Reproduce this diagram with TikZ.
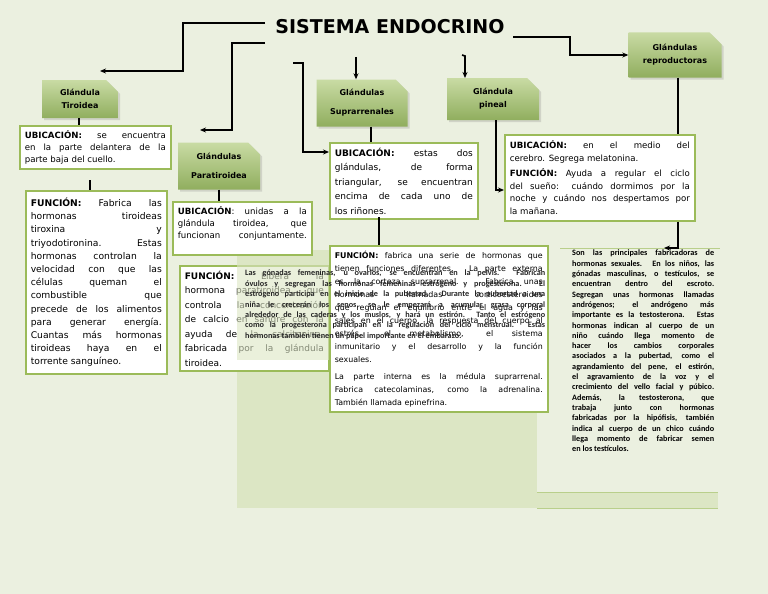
\documentclass[tikz,border=0pt]{standalone}
\usepackage{fontspec}
\setmainfont{DejaVu Sans}
\newfontfamily\carlitofont{Carlito}
\usetikzlibrary{shapes.misc,shadows,arrows.meta}
\definecolor{bgc}{HTML}{EBF0E0}
\definecolor{panel}{HTML}{DCE6C4}
\definecolor{bgreen}{HTML}{9BBB59}
\definecolor{ntop}{HTML}{C9DBA4}
\definecolor{nbot}{HTML}{90AE5E}
\tikzset{
 gland/.style={chamfered rectangle, chamfered rectangle corners=north east, chamfered rectangle xsep=6pt, chamfered rectangle ysep=6pt,
   top color=ntop, bottom color=nbot, draw=none, drop shadow={opacity=0.25,shadow xshift=2pt,shadow yshift=-2pt},
   font=\fontsize{8}{13}\selectfont\bfseries, align=center, inner sep=2pt},
 infobox/.style={draw=bgreen, line width=1.6pt, fill=white, anchor=north west, align=justify, inner sep=5pt},
 conn/.style={line width=1.6pt, black},
 arr/.style={conn, -{Stealth[length=6pt,width=5pt]}},
}
\begin{document}
\begin{tikzpicture}[x=1pt,y=-1pt]
\fill[bgc] (0,0) rectangle (768,594);
\useasboundingbox (0,0) rectangle (768,594);
% title
\node[font=\fontsize{19}{22}\selectfont\bfseries] (title) at (390,27) {SISTEMA ENDOCRINO};
% glands
\node[gland, minimum width=76pt, minimum height=38pt] (tir) at (80,99) {Glándula\\Tiroidea};
\node[gland, minimum width=82pt, minimum height=47pt, font=\fontsize{8}{19}\selectfont\bfseries] (par) at (219,166) {Glándulas\\Paratiroidea};
\node[gland, minimum width=91pt, minimum height=47pt, font=\fontsize{8}{19}\selectfont\bfseries] (sup) at (362,103) {Glándulas\\Suprarrenales};
\node[gland, minimum width=92pt, minimum height=42pt] (pin) at (493,99) {Glándula\\pineal};
\node[gland, minimum width=93pt, minimum height=45pt] (rep) at (675,55) {Glándulas\\reproductoras};
% panel
\fill[panel] (237,250) rectangle (537,508);
\fill[panel] (537,492) rectangle (718,508);
\draw[bgreen!70, line width=1pt] (537,492) -- (718,492) (537,508) -- (718,508);
\draw[bgreen!70, line width=1pt] (560,248) -- (720,248);
% info boxes
\node[infobox, text width=141pt, minimum height=42pt, font=\fontsize{8.6}{11.8}\selectfont] (tirU) at (19,125)
 {\textbf{UBICACIÓN:} se encuentra\linebreak en la parte delantera de la\linebreak parte baja del cuello.\hfill\null};
\node[infobox, text width=131pt, minimum height=183pt, font=\fontsize{9.2}{13.2}\selectfont] (tirF) at (25,190)
 {\textbf{FUNCIÓN:} Fabrica las\linebreak hormonas tiroideas\linebreak tiroxina y\linebreak triyodotironina. Estas\linebreak hormonas controlan la\linebreak velocidad con que las\linebreak células queman el\linebreak combustible que\linebreak precede de los alimentos\linebreak para generar energía.\linebreak Cuantas más hormonas\linebreak tiroideas haya en el\linebreak torrente sanguíneo.\hfill\null};
\node[infobox, text width=129pt, minimum height=41pt, font=\fontsize{8.6}{11.8}\selectfont] (parU) at (172,201)
 {\textbf{UBICACIÓN}: unidas a la\linebreak glándula tiroidea, que\linebreak funcionan conjuntamente.\hfill\null};
\node[infobox, text width=139pt, minimum height=92pt, font=\fontsize{9}{14.5}\selectfont] (parF) at (179,265)
 {\textbf{FUNCIÓN:} Libera la\linebreak hormona paratiroidea, que\linebreak controla la concentración\linebreak de calcio en sangre con la\linebreak ayuda de la calcitonina,\linebreak fabricada por la glándula\linebreak tiroidea.\hfill\null};
\fill[panel, opacity=0.6] (237,262) rectangle (330,360);
\node[infobox, text width=138pt, minimum height=69pt, font=\fontsize{9}{14.5}\selectfont] (supU) at (329,142)
 {\textbf{UBICACIÓN:} estas dos\linebreak glándulas, de forma\linebreak triangular, se encuentran\linebreak encima de cada uno de\linebreak los riñones.\hfill\null};
\node[infobox, text width=208pt, minimum height=148pt, font=\fontsize{7.9}{13}\selectfont] (supF) at (329,245)
 {\textbf{FUNCIÓN:} fabrica una serie de hormonas que\linebreak tienen funciones diferentes. La parte externa\linebreak es la corteza suprarrenal. Fabrica unas\linebreak hormonas llamadas corticoesteroides\linebreak que regulan el equilibrio entre el agua y las\linebreak sales en el cuerpo, la respuesta del cuerpo al\linebreak estrés, el metabolismo, el sistema\linebreak inmunitario y el desarrollo y la función\linebreak sexuales.\par\vspace{4pt}
 La parte interna es la médula suprarrenal.\linebreak Fabrica catecolaminas, como la adrenalina.\linebreak También llamada epinefrina.\hfill\null};
\node[infobox, text width=180pt, minimum height=86pt, font=\fontsize{8.6}{12.5}\selectfont] (pinB) at (504,134)
 {\textbf{UBICACIÓN:} en el medio del\linebreak cerebro. Segrega melatonina.\hfill\null\par\vspace{3pt}
 \textbf{FUNCIÓN:} Ayuda a regular el ciclo\linebreak del sueño: cuándo dormimos por la\linebreak noche y cuándo nos despertamos por\linebreak la mañana.\hfill\null};
% right column
\node[anchor=north west, text width=142pt, align=justify, inner sep=0pt, font=\carlitofont\fontsize{8.2}{10.3}\selectfont\bfseries] (repT) at (572,250)
 {Son las principales fabricadoras de\linebreak hormonas sexuales. En los niños, las\linebreak gónadas masculinas, o testículos, se\linebreak encuentran dentro del escroto.\linebreak Segregan unas hormonas llamadas\linebreak andrógenos; el andrógeno más\linebreak importante es la testosterona. Estas\linebreak hormonas indican al cuerpo de un\linebreak niño cuándo llega momento de\linebreak hacer los cambios corporales\linebreak asociados a la pubertad, como el\linebreak agrandamiento del pene, el estirón,\linebreak el agravamiento de la voz y el\linebreak crecimiento del vello facial y púbico.\linebreak Además, la testosterona, que\linebreak trabaja junto con hormonas\linebreak fabricadas por la hipófisis, también\linebreak indica al cuerpo de un chico cuándo\linebreak llega momento de fabricar semen\linebreak en los testículos.\hfill\null};
% overlapping gonadas text
\node[anchor=north west, text width=300pt, align=justify, inner sep=0pt, font=\carlitofont\fontsize{8.2}{10.4}\selectfont\bfseries, text=black!85] (gon) at (245,270)
 {Las gónadas femeninas, u ovarios, se encuentran en la pelvis. Fabrican\linebreak óvulos y segregan las hormonas femeninas estrógeno y progesterona. El\linebreak estrógeno participa en el inicio de la pubertad. Durante la pubertad a una\linebreak niña le crecerán los senos, se le empezará a acumular grasa corporal\linebreak alrededor de las caderas y los muslos, y hará un estirón. Tanto el estrógeno\linebreak como la progesterona participan en la regulación del ciclo menstrual. Estas\linebreak hormonas también tienen un papel importante en el embarazo.\hfill\null};
% connectors
\coordinate (t1) at (265,23);
\coordinate (t2) at (265,43);
\coordinate (t3) at (293,63);
\draw[arr] (t1) -| (183,71) -- (100,71);
\draw[arr] (t2) -| (232,130) -- (200,130);
\draw[arr] (t3) -- (303,63) |- (supU.west |- 0,152) ;
\draw[arr] (356,57) -- (sup.north -| 356,0);
\draw[arr] (462,55) -- (465,56) -- (465,78);
\draw[arr] (513,37) -- (570,37) |- (rep.west);
\draw[conn] (tir.south -| 79,0) -- (tirU.north -| 79,0);
\draw[conn] (90,180) -- (tirF.north -| 90,0);
\draw[conn] (par.south) -- (parU.north -| par.south);
\draw[conn] (sup.south -| 371,0) -- (supU.north -| 371,0);
\draw[conn] (379,217) -- (supF.north -| 379,0);
\draw[arr] (pin.south -| 496,0) |- (pinB.west |- 0,190);
\draw[conn] (rep.south -| 678,0) -- (pinB.north -| 678,0);
\draw[arr] (pinB.south -| 678,0) -- (678,248) -- (664,248);
\end{tikzpicture}
\end{document}
